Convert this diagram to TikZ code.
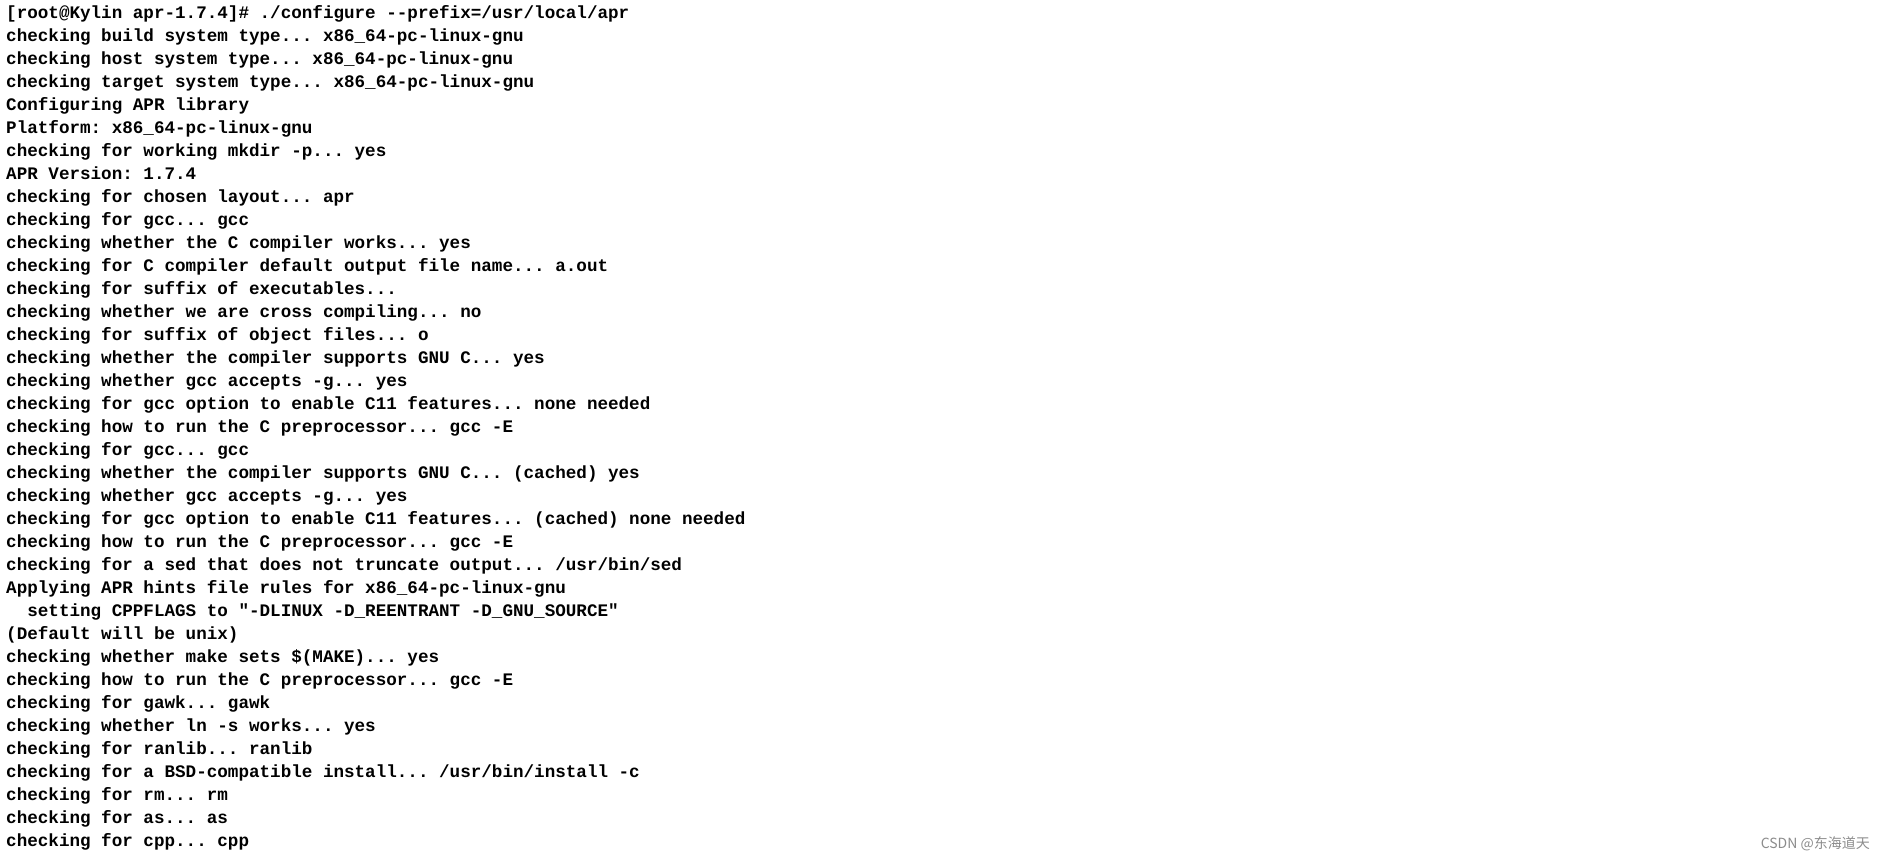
\documentclass[tikz,border=0pt]{standalone}
\usepackage{fontspec}
\setmonofont{Liberation Mono}
\newfontfamily\cjk{Noto Sans CJK SC}
\begin{document}
\begin{tikzpicture}[x=1pt,y=1pt,
  ln/.style={anchor=base west,inner sep=0pt,font=\ttfamily\bfseries\fontsize{17.6}{23}\selectfont,text=black}]
\useasboundingbox[fill=white] (0,0) rectangle (1882,-862);
\def\Y#1{-13-5.5-23*#1}
\node[ln] (l0) at (6,{\Y{0}}) {[root@Kylin apr-1.7.4]\# ./configure -{}-prefix=/usr/local/apr};
\node[ln] (l1) at (6,{\Y{1}}) {checking build system type... x86\_64-pc-linux-gnu};
\node[ln] (l2) at (6,{\Y{2}}) {checking host system type... x86\_64-pc-linux-gnu};
\node[ln] (l3) at (6,{\Y{3}}) {checking target system type... x86\_64-pc-linux-gnu};
\node[ln] (l4) at (6,{\Y{4}}) {Configuring APR library};
\node[ln] (l5) at (6,{\Y{5}}) {Platform: x86\_64-pc-linux-gnu};
\node[ln] (l6) at (6,{\Y{6}}) {checking for working mkdir -p... yes};
\node[ln] (l7) at (6,{\Y{7}}) {APR Version: 1.7.4};
\node[ln] (l8) at (6,{\Y{8}}) {checking for chosen layout... apr};
\node[ln] (l9) at (6,{\Y{9}}) {checking for gcc... gcc};
\node[ln] (l10) at (6,{\Y{10}}) {checking whether the C compiler works... yes};
\node[ln] (l11) at (6,{\Y{11}}) {checking for C compiler default output file name... a.out};
\node[ln] (l12) at (6,{\Y{12}}) {checking for suffix of executables...};
\node[ln] (l13) at (6,{\Y{13}}) {checking whether we are cross compiling... no};
\node[ln] (l14) at (6,{\Y{14}}) {checking for suffix of object files... o};
\node[ln] (l15) at (6,{\Y{15}}) {checking whether the compiler supports GNU C... yes};
\node[ln] (l16) at (6,{\Y{16}}) {checking whether gcc accepts -g... yes};
\node[ln] (l17) at (6,{\Y{17}}) {checking for gcc option to enable C11 features... none needed};
\node[ln] (l18) at (6,{\Y{18}}) {checking how to run the C preprocessor... gcc -E};
\node[ln] (l19) at (6,{\Y{19}}) {checking for gcc... gcc};
\node[ln] (l20) at (6,{\Y{20}}) {checking whether the compiler supports GNU C... (cached) yes};
\node[ln] (l21) at (6,{\Y{21}}) {checking whether gcc accepts -g... yes};
\node[ln] (l22) at (6,{\Y{22}}) {checking for gcc option to enable C11 features... (cached) none needed};
\node[ln] (l23) at (6,{\Y{23}}) {checking how to run the C preprocessor... gcc -E};
\node[ln] (l24) at (6,{\Y{24}}) {checking for a sed that does not truncate output... /usr/bin/sed};
\node[ln] (l25) at (6,{\Y{25}}) {Applying APR hints file rules for x86\_64-pc-linux-gnu};
\node[ln] (l26) at (6,{\Y{26}}) {\ \ setting CPPFLAGS to "-DLINUX -D\_REENTRANT -D\_GNU\_SOURCE"};
\node[ln] (l27) at (6,{\Y{27}}) {(Default will be unix)};
\node[ln] (l28) at (6,{\Y{28}}) {checking whether make sets \$(MAKE)... yes};
\node[ln] (l29) at (6,{\Y{29}}) {checking how to run the C preprocessor... gcc -E};
\node[ln] (l30) at (6,{\Y{30}}) {checking for gawk... gawk};
\node[ln] (l31) at (6,{\Y{31}}) {checking whether ln -s works... yes};
\node[ln] (l32) at (6,{\Y{32}}) {checking for ranlib... ranlib};
\node[ln] (l33) at (6,{\Y{33}}) {checking for a BSD-compatible install... /usr/bin/install -c};
\node[ln] (l34) at (6,{\Y{34}}) {checking for rm... rm};
\node[ln] (l35) at (6,{\Y{35}}) {checking for as... as};
\node[ln] (l36) at (6,{\Y{36}}) {checking for cpp... cpp};
\node[anchor=east,inner sep=0pt,text=black!45,font=\cjk\fontsize{14}{16}\selectfont] (wm) at (1870,-844) {CSDN @东海道天};
\end{tikzpicture}
\end{document}
